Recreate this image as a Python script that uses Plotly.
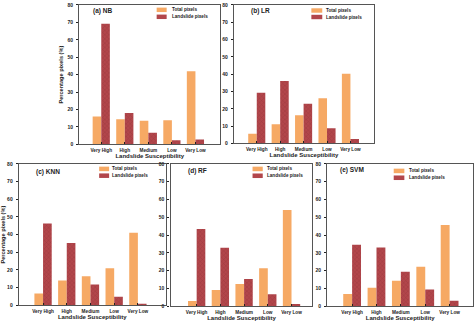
import plotly.graph_objects as go

categories = ["Very High", "High", "Medium", "Low", "Very Low"]
panel_titles = ["(a) NB", "(b) LR", "(c) KNN", "(d) RF", "(e) SVM"]
total_pixels = {
    "NB": [15.9, 14.4, 13.5, 13.8, 41.9],
    "LR": [5.5, 11.0, 16.3, 26.0, 40.3],
    "KNN": [6.7, 14.0, 16.4, 21.0, 41.1],
    "RF": [3.0, 9.1, 12.5, 21.4, 54.1],
    "SVM": [6.9, 10.4, 14.3, 22.2, 45.7],
}
landslide_pixels = {
    "NB": [69.2, 18.0, 6.7, 2.4, 2.8],
    "LR": [29.3, 36.0, 22.9, 8.7, 2.5],
    "KNN": [46.3, 35.2, 11.7, 4.8, 0.9],
    "RF": [43.5, 32.9, 15.3, 6.7, 1.3],
    "SVM": [34.6, 33.1, 19.4, 9.4, 3.1],
}
models = ["NB", "LR", "KNN", "RF", "SVM"]
legend_labels = ["Total pixels", "Landslide pixels"]

W, H = 474, 323
ORANGE = "#F6A964"
RED = "#B2464B"
FRAME = "#555555"
FONT = "Liberation Sans"

# panel boxes in pixels: (x0, x1, ytop, ybottom)
boxes = [(76, 218, 2, 144), (232, 373, 2, 143), (15, 163, 164, 308),
         (168, 311, 164, 309), (326, 473, 164, 309)]
xranges = [[-0.93, 5.05], [-0.97, 5.0], [-1.02, 5.17], [-1.1, 4.88], [-1.02, 4.96]]
# legend placement in axis-domain fractions: swatch x0, x1, text x, y1, y2
legpos = [(0.549, 0.62, 0.641, 0.965, 0.915), (0.553, 0.631, 0.643, 0.96, 0.913),
          (0.547, 0.615, 0.622, 0.965, 0.917), (0.578, 0.65, 0.664, 0.965, 0.917),
          (0.456, 0.529, 0.544, 0.951, 0.903)]
titlepos = [(0.085, 0.958), (0.106, 0.955), (0.106, 0.942), (0.112, 0.951), (0.073, 0.96)]

fig = go.Figure()
annotations = []
shapes = []
for i, m in enumerate(models):
    ax = "" if i == 0 else str(i + 1)
    fig.add_trace(go.Bar(x=categories, y=total_pixels[m], name=legend_labels[0],
                         marker=dict(color=ORANGE, line=dict(width=0)),
                         xaxis="x" + ax, yaxis="y" + ax, showlegend=False))
    fig.add_trace(go.Bar(x=categories, y=landslide_pixels[m], name=legend_labels[1],
                         marker=dict(color=RED, line=dict(width=0),
                                     pattern=dict(shape="x", size=3, solidity=0.3,
                                                  fgcolor="#8A3034", bgcolor=RED)),
                         xaxis="x" + ax, yaxis="y" + ax, showlegend=False))
    x0, x1, yt, yb = boxes[i]
    xd = [x0 / W, x1 / W]
    yd = [1 - yb / H, 1 - yt / H]
    common = dict(showline=True, linecolor=FRAME, linewidth=1.4, mirror=True,
                  showgrid=False, zeroline=False)
    xa = dict(domain=xd, anchor="y" + ax, range=xranges[i], ticks="inside", ticklen=2,
              tickcolor="#222", ticklabelstandoff=1,
              tickfont=dict(family=FONT, size=4.7, color="#222", weight="bold"),
              title=dict(text="Landslide Susceptibility", standoff=1,
                         font=dict(family=FONT, size=6, color="#222", weight="bold")),
              **common)
    ya = dict(domain=yd, anchor="x" + ax, range=[0, 80], dtick=10, ticks="outside",
              ticklen=2, tickcolor="#222", ticklabelstandoff=2,
              tickfont=dict(family=FONT, size=5, color="#222", weight="bold"), **common)
    if i in (0, 2):
        ya["title"] = dict(text="Percentage pixels (%)", standoff=3,
                           font=dict(family=FONT, size=5.6, color="#222", weight="bold"))
    fig.layout["xaxis" + ax] = xa
    fig.layout["yaxis" + ax] = ya

    xr = "x" + ax + " domain"
    yr = "y" + ax + " domain"
    tx, ty = titlepos[i]
    annotations.append(dict(text=panel_titles[i], x=tx, y=ty, xref=xr, yref=yr,
                            xanchor="left", yanchor="middle", showarrow=False,
                            font=dict(family=FONT, size=6.5, color="#222", weight="bold")))
    sx0, sx1, tlx, ly1, ly2 = legpos[i]
    for ly, col, lab in ((ly1, ORANGE, legend_labels[0]), (ly2, RED, legend_labels[1])):
        shapes.append(dict(type="rect", xref=xr, yref=yr, x0=sx0, x1=sx1,
                           y0=ly - 0.016, y1=ly + 0.016, fillcolor=col, line=dict(width=0)))
        annotations.append(dict(text=lab, x=tlx, y=ly, xref=xr, yref=yr,
                                xanchor="left", yanchor="middle", showarrow=False,
                                font=dict(family=FONT, size=4.6, color="#222", weight="bold")))

fig.update_layout(width=W, height=H, margin=dict(l=0, r=0, t=0, b=0),
                  paper_bgcolor="white", plot_bgcolor="white",
                  barmode="group", bargap=0.27, bargroupgap=0,
                  annotations=annotations, shapes=shapes, showlegend=False)
fig.write_html("out.html")
